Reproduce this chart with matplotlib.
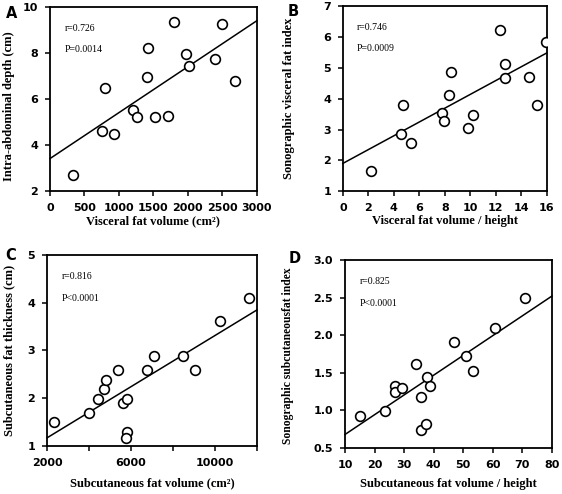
import numpy as np
import matplotlib.pyplot as plt
from matplotlib.ticker import FixedLocator

# Panel A: visceral fat volume vs intra-abdominal depth
a_x = [330, 750, 929, 798, 1210, 1258, 1403, 1427, 1524, 1708, 1805, 1974, 2022, 2395, 2491, 2685]
a_y = [2.7, 4.6, 4.5, 6.49, 5.52, 5.23, 6.99, 8.24, 5.23, 5.27, 9.35, 7.98, 7.47, 7.76, 9.28, 6.78]
a_fit = [3.42, 0.0020]  # intercept, slope

# Panel B: visceral fat volume / height vs sonographic visceral fat index
b_x = [2.2, 4.6, 4.75, 5.35, 7.8, 7.95, 8.35, 8.5, 9.8, 10.2, 12.3, 12.75, 12.75, 14.6, 15.2, 15.95]
b_y = [1.66, 2.84, 3.79, 2.55, 3.55, 3.26, 4.12, 4.88, 3.06, 3.46, 6.24, 5.13, 4.67, 4.70, 3.80, 5.83]
b_fit = [1.90, 0.224]

# Panel C: subcutaneous fat volume vs subcutaneous fat thickness
c_x = [2317, 3984, 4429, 4698, 4810, 5365, 5603, 5810, 5810, 5762, 6762, 7111, 8476, 9063, 10222, 11603]
c_y = [1.50, 1.69, 1.99, 2.20, 2.38, 2.60, 1.89, 1.99, 1.29, 1.17, 2.60, 2.88, 2.88, 2.60, 3.62, 4.10]
c_fit = [0.634, 0.000268]

# Panel D: subcutaneous fat volume / height vs sonographic subcutaneous fat index
d_x = [15.1, 23.5, 26.9, 26.9, 29.2, 34.1, 35.6, 35.6, 37.3, 37.6, 38.7, 46.7, 51.0, 53.2, 60.8, 71.0]
d_y = [0.93, 0.99, 1.33, 1.25, 1.30, 1.62, 1.18, 0.74, 0.82, 1.45, 1.32, 1.91, 1.73, 1.52, 2.09, 2.50]
d_fit = [0.417, 0.0263]

panels = [
    dict(letter='A', x=a_x, y=a_y, fit=a_fit, xlim=(0, 3000), ylim=(2, 10),
         xticks=[0, 500, 1000, 1500, 2000, 2500, 3000], yticks=[2, 4, 6, 8, 10],
         xlabel='Visceral fat volume (cm²)', ylabel='Intra-abdominal depth (cm)',
         r='r=0.726', p='P=0.0014', rect=[0.089, 0.613, 0.368, 0.372],
         ylab_xy=(-0.169, 0.46), ylab_size=9, xlab_y=-0.13, letter_px=(6, 13)),
    dict(letter='B', x=b_x, y=b_y, fit=b_fit, xlim=(0, 16), ylim=(1, 7),
         xticks=list(range(0, 17, 2)), yticks=list(range(1, 8)),
         xlabel='Visceral fat volume / height', ylabel='Sonographic visceral fat index',
         r='r=0.746', p='P=0.0009', rect=[0.610, 0.613, 0.363, 0.3745],
         ylab_xy=(-0.235, 0.5), ylab_size=9, xlab_y=-0.13, letter_px=(288, 12)),
    dict(letter='C', x=c_x, y=c_y, fit=c_fit, xlim=(2000, 12000), ylim=(1, 5),
         xticks=[2000, 6000, 10000], yticks=[1, 2, 3, 4, 5],
         xlabel='Subcutaneous fat volume (cm²)', ylabel='Subcutaneous fat thickness (cm)',
         r='r=0.816', p='P<0.0001', rect=[0.0836, 0.0972, 0.3737, 0.3866],
         ylab_xy=(-0.152, 0.5), ylab_size=9, xlab_y=-0.163, letter_px=(5, 256)),
    dict(letter='D', x=d_x, y=d_y, fit=d_fit, xlim=(10, 80), ylim=(0.5, 3.0),
         xticks=list(range(10, 81, 10)), yticks=[0.5, 1.0, 1.5, 2.0, 2.5, 3.0],
         xlabel='Subcutaneous fat volume / height', ylabel='Sonographic subcutaneousfat index',
         r='r=0.825', p='P<0.0001', rect=[0.6139, 0.0931, 0.3683, 0.3806],
         ylab_xy=(-0.245, 0.49), ylab_size=8.4, xlab_y=-0.16, letter_px=(289, 258)),
]

serif = 'Liberation Serif'
fig = plt.figure(figsize=(5.62, 4.94), dpi=100)

for pnl in panels:
    ax = fig.add_axes(pnl['rect'])
    ax.plot(pnl['x'], pnl['y'], 'o', mfc='white', mec='black', ms=7, mew=1.2, zorder=3)
    xs = np.array(pnl['xlim'], dtype=float)
    ax.plot(xs, pnl['fit'][0] + pnl['fit'][1] * xs, color='black', lw=1.1, clip_on=False)
    ax.set_xlim(pnl['xlim'])
    ax.set_ylim(pnl['ylim'])
    ax.set_xticks(pnl['xticks'])
    ax.set_yticks(pnl['yticks'])
    if pnl['letter'] == 'C':
        ax.xaxis.set_minor_locator(FixedLocator([4000, 8000, 12000]))
    if pnl['letter'] == 'D':
        ax.set_yticklabels(['%.1f' % v for v in pnl['yticks']])
    ax.tick_params(which='both', direction='out', length=3.5, width=1.1, pad=5,
                   labelsize=8, top=False, right=False)
    for lab in ax.get_xticklabels() + ax.get_yticklabels():
        lab.set_fontweight('bold')
    for s in ax.spines.values():
        s.set_linewidth(1.3)
    ax.set_xlabel(pnl['xlabel'], fontfamily=serif, fontweight='bold', fontsize=9)
    ax.set_ylabel(pnl['ylabel'], fontfamily=serif, fontweight='bold', fontsize=pnl['ylab_size'])
    ax.xaxis.set_label_coords(0.5, pnl['xlab_y'])
    ax.yaxis.set_label_coords(*pnl['ylab_xy'])
    ax.text(0.07, 0.885, pnl['r'], transform=ax.transAxes, fontfamily=serif,
            fontsize=7, va='center')
    ax.text(0.07, 0.77, pnl['p'], transform=ax.transAxes, fontfamily=serif,
            fontsize=7, va='center')
    px, py = pnl['letter_px']
    fig.text(px / 562, 1 - py / 494, pnl['letter'], fontsize=10.5, fontweight='bold',
             va='center', ha='left')

fig.savefig('out.png', dpi=100)
